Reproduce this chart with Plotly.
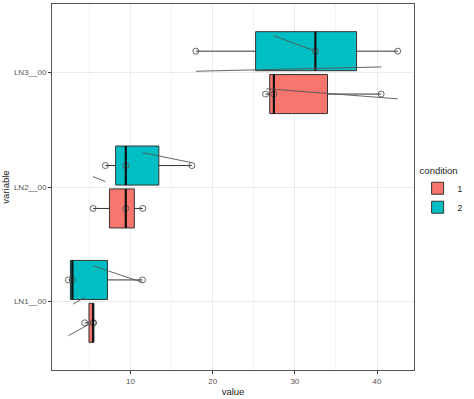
import numpy as np
import plotly.graph_objects as go

categories = ["LN1__00", "LN2__00", "LN3__00"]
conditions = ["1", "2"]
colors = {"1": "#F8766D", "2": "#00BFC4"}

# values per condition per category (3 observations each)
cond1_values = {
    "LN1__00": [4.43, 5.47, 5.50],
    "LN2__00": [5.45, 9.43, 11.50],
    "LN3__00": [26.44, 27.45, 40.50],
}
cond2_values = {
    "LN1__00": [2.45, 2.93, 11.46],
    "LN2__00": [6.95, 9.43, 17.47],
    "LN3__00": [17.95, 32.50, 42.52],
}

# jittered pair lines (x start/end, category, y jitter start/end)
pair_cat = ["LN3__00", "LN3__00", "LN3__00", "LN2__00", "LN2__00", "LN1__00", "LN1__00", "LN1__00"]
pair_x0 = [27.37, 17.95, 26.56, 11.53, 5.44, 5.44, 3.01, 2.45]
pair_x1 = [32.24, 40.52, 42.52, 17.43, 6.95, 11.46, 4.43, 4.96]
pair_j0 = [0.324, 0.012, -0.141, 0.300, 0.091, 0.311, -0.024, -0.300]
pair_j1 = [0.195, 0.050, -0.229, 0.213, 0.047, 0.166, 0.035, -0.200]

x_tickvals = [10, 20, 30, 40]

cat_pos = {c: i + 1 for i, c in enumerate(categories)}
BOXGAP = 0.25
GROUPGAP = 0.09
slot = (1 - BOXGAP) / 2
box_w = slot * (1 - GROUPGAP)
offsets = {"1": -slot / 2, "2": slot / 2}

fig = go.Figure()
data_by_cond = {"1": cond1_values, "2": cond2_values}
for cond in conditions:
    xs, ys = [], []
    for c in categories:
        vals = data_by_cond[cond][c]
        xs += vals
        ys += [cat_pos[c]] * len(vals)
    fig.add_trace(go.Box(
        x=xs, y=ys, orientation="h", name=cond,
        fillcolor=colors[cond],
        line=dict(color="#333333", width=1),
        boxpoints="all", jitter=0, pointpos=0,
        marker=dict(symbol="circle-open", color="#555555", size=6,
                    line=dict(width=0.9, color="#555555")),
        quartilemethod="inclusive",
        whiskerwidth=0,
        hoverinfo="x",
    ))

# thick median lines
for cond in conditions:
    for c in categories:
        m = float(np.median(data_by_cond[cond][c]))
        yc = cat_pos[c] + offsets[cond]
        fig.add_trace(go.Scatter(
            x=[m, m], y=[yc - box_w / 2, yc + box_w / 2], mode="lines",
            line=dict(color="#111111", width=2.2), showlegend=False, hoverinfo="skip"))

# jittered pair lines
for i in range(len(pair_x0)):
    p = cat_pos[pair_cat[i]]
    fig.add_trace(go.Scatter(
        x=[pair_x0[i], pair_x1[i]], y=[p + pair_j0[i], p + pair_j1[i]],
        mode="lines", line=dict(color="#555555", width=0.9),
        showlegend=False, hoverinfo="skip"))

fig.update_layout(
    template="none",
    width=474, height=399,
    margin=dict(l=52, r=60, t=4, b=29, autoexpand=False),
    paper_bgcolor="white", plot_bgcolor="white",
    boxmode="group", boxgap=BOXGAP, boxgroupgap=GROUPGAP,
    font=dict(family="Liberation Sans, Arial, sans-serif", color="#4D4D4D", size=8),
    legend=dict(
        title=dict(text="condition", font=dict(size=9.5, color="#1A1A1A")),
        x=1.01, xanchor="left", y=0.57, yanchor="top",
        font=dict(size=8.5, color="#1A1A1A"),
        tracegroupgap=0, itemwidth=30, bgcolor="rgba(0,0,0,0)",
    ),
    xaxis=dict(
        range=[0.45, 44.5], tickvals=x_tickvals, showgrid=True,
        gridcolor="#EBEBEB", gridwidth=1, zeroline=False, automargin=False,
        minor=dict(dtick=5, tick0=0, showgrid=True, gridcolor="#F3F3F3", gridwidth=0.6, ticks=""),
        ticks="outside", ticklen=3, tickcolor="#333333",
        showline=True, linecolor="#555555", linewidth=1, mirror=True,
        title=dict(text="value", font=dict(size=9.5, color="#1A1A1A"), standoff=3),
        tickfont=dict(size=8, color="#555555"),
    ),
    yaxis=dict(
        range=[0.4, 3.6], tickvals=[1, 2, 3], ticktext=categories,
        showgrid=True, gridcolor="#EBEBEB", gridwidth=1, zeroline=False, automargin=False,
        ticks="outside", ticklen=3, tickcolor="#333333",
        showline=True, linecolor="#555555", linewidth=1, mirror=True,
        title=dict(text="variable", font=dict(size=9.5, color="#1A1A1A"), standoff=3),
        tickfont=dict(size=8, color="#555555"),
    ),
)

fig.write_html("out.html", config={"displayModeBar": False},
               post_script="document.body.style.margin='0';")
